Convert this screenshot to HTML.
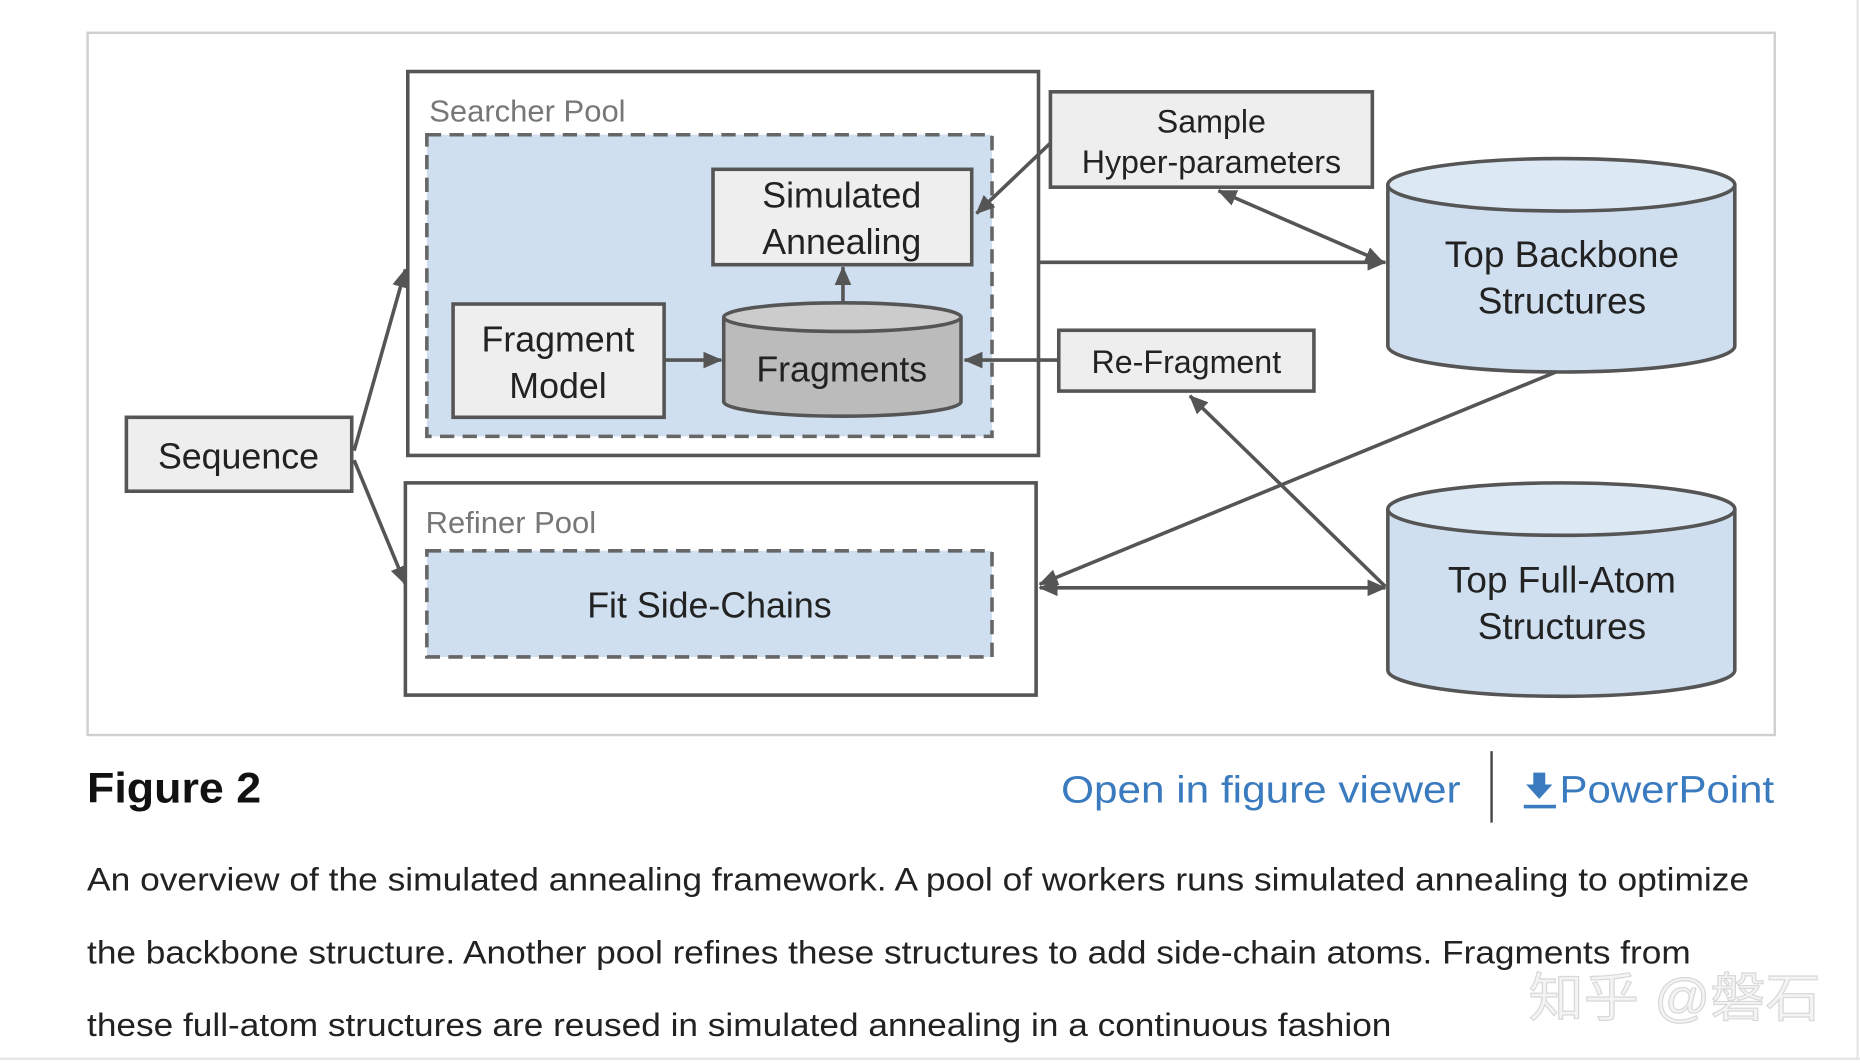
<!DOCTYPE html>
<html><head><meta charset="utf-8"><style>
html,body{margin:0;padding:0;background:#fff;}
svg{display:block;}
text{font-family:"Liberation Sans","Noto Sans CJK SC",sans-serif;}
</style></head><body>
<svg width="1860" height="1064" viewBox="0 0 1560 892.4" preserveAspectRatio="none" xmlns="http://www.w3.org/2000/svg">
<defs>
<marker id="ah" markerWidth="8" markerHeight="8" refX="7" refY="4" orient="auto" markerUnits="userSpaceOnUse">
<path d="M0,0 L8,4 L0,8 Z" fill="#555"/></marker>
<marker id="ah2" markerWidth="16" markerHeight="14" refX="15" refY="7" orient="auto-start-reverse" markerUnits="userSpaceOnUse">
<path d="M0,0 L16,7 L0,14 Z" fill="#555"/></marker>
</defs>
<rect x="0" y="0" width="1560" height="892" fill="#fff"/>
<line x1="0" y1="888" x2="1560" y2="888" stroke="#e6e6e6" stroke-width="2"/>
<line x1="1558" y1="0" x2="1558" y2="888" stroke="#e6e6e6" stroke-width="2"/>
<rect x="73.5" y="27.5" width="1415" height="589" fill="#fff" stroke="#cfcfcf" stroke-width="2"/>

<!-- Searcher pool -->
<rect x="342" y="60" width="529" height="322" fill="#fff" stroke="#555" stroke-width="3"/>
<text x="360" y="102" font-size="26" fill="#777">Searcher Pool</text>
<rect x="358" y="113" width="474" height="253" fill="#cfdff0" stroke="#666" stroke-width="3" stroke-dasharray="12,7"/>
<rect x="598" y="142" width="217" height="80" fill="#eee" stroke="#555" stroke-width="3"/>
<text x="706" y="174" font-size="30" fill="#222" text-anchor="middle">Simulated</text>
<text x="706" y="213" font-size="30" fill="#222" text-anchor="middle">Annealing</text>
<rect x="380" y="255" width="177" height="95" fill="#eee" stroke="#555" stroke-width="3"/>
<text x="468" y="295" font-size="30" fill="#222" text-anchor="middle">Fragment</text>
<text x="468" y="334" font-size="30" fill="#222" text-anchor="middle">Model</text>
<path d="M607,266 L607,337 A99,12 0 0 0 806,337 L806,266" fill="#bbb" stroke="#555" stroke-width="3"/>
<ellipse cx="706.5" cy="266" rx="99.5" ry="12" fill="#ccc" stroke="#555" stroke-width="3"/>
<text x="706" y="320" font-size="30" fill="#222" text-anchor="middle">Fragments</text>
<line x1="707" y1="253" x2="707" y2="224" stroke="#555" stroke-width="3" marker-end="url(#ah2)"/>
<line x1="558" y1="302" x2="605" y2="302" stroke="#555" stroke-width="3" marker-end="url(#ah2)"/>

<!-- Sequence -->
<rect x="106" y="350" width="189" height="62" fill="#eee" stroke="#555" stroke-width="3"/>
<text x="200" y="393" font-size="30" fill="#222" text-anchor="middle">Sequence</text>
<line x1="297" y1="378" x2="340" y2="226" stroke="#555" stroke-width="3" marker-end="url(#ah2)"/>
<line x1="297" y1="386" x2="340" y2="490" stroke="#555" stroke-width="3" marker-end="url(#ah2)"/>

<!-- Refiner pool -->
<rect x="340" y="405" width="529" height="178" fill="#fff" stroke="#555" stroke-width="3"/>
<text x="357" y="447" font-size="26" fill="#777">Refiner Pool</text>
<rect x="358" y="462" width="474" height="89" fill="#cfdff0" stroke="#666" stroke-width="3" stroke-dasharray="12,7"/>
<text x="595" y="518" font-size="30" fill="#222" text-anchor="middle">Fit Side-Chains</text>

<!-- Sample -->
<rect x="881" y="77" width="270" height="80" fill="#eee" stroke="#555" stroke-width="3"/>
<text x="1016" y="111" font-size="27" fill="#222" text-anchor="middle">Sample</text>
<text x="1016" y="145" font-size="27" fill="#222" text-anchor="middle">Hyper-parameters</text>
<!-- Re-Fragment -->
<rect x="888" y="277" width="214" height="51" fill="#eee" stroke="#555" stroke-width="3"/>
<text x="995" y="313" font-size="27" fill="#222" text-anchor="middle">Re-Fragment</text>

<!-- Top Backbone -->
<path d="M1164,155 L1164,290 A145.5,22 0 0 0 1455,290 L1455,155" fill="#cfdff0" stroke="#555" stroke-width="3"/>
<ellipse cx="1309.5" cy="155" rx="145.5" ry="22" fill="#dde8f5" stroke="#555" stroke-width="3"/>
<text x="1310" y="224" font-size="31" fill="#222" text-anchor="middle">Top Backbone</text>
<text x="1310" y="263" font-size="31" fill="#222" text-anchor="middle">Structures</text>
<!-- Top Full-Atom -->
<path d="M1164,427 L1164,562 A145.5,22 0 0 0 1455,562 L1455,427" fill="#cfdff0" stroke="#555" stroke-width="3"/>
<ellipse cx="1309.5" cy="427" rx="145.5" ry="22" fill="#dde8f5" stroke="#555" stroke-width="3"/>
<text x="1310" y="497" font-size="31" fill="#222" text-anchor="middle">Top Full-Atom</text>
<text x="1310" y="536" font-size="31" fill="#222" text-anchor="middle">Structures</text>

<!-- connectors -->
<line x1="881" y1="120" x2="819" y2="179" stroke="#555" stroke-width="3" marker-end="url(#ah2)"/>
<line x1="1022" y1="160" x2="1160" y2="220" stroke="#555" stroke-width="3" marker-start="url(#ah2)" marker-end="url(#ah2)"/>
<line x1="871" y1="220" x2="1162" y2="220" stroke="#555" stroke-width="3" marker-end="url(#ah2)"/>
<line x1="888" y1="302" x2="809" y2="302" stroke="#555" stroke-width="3" marker-end="url(#ah2)"/>
<line x1="1162" y1="492" x2="998" y2="332" stroke="#555" stroke-width="3" marker-end="url(#ah2)"/>
<line x1="1305" y1="312" x2="872" y2="490" stroke="#555" stroke-width="3" marker-end="url(#ah2)"/>
<line x1="872" y1="493" x2="1162" y2="493" stroke="#555" stroke-width="3" marker-start="url(#ah2)" marker-end="url(#ah2)"/>

<!-- caption -->
<text x="73" y="673" font-size="36" font-weight="bold" fill="#111" textLength="146" lengthAdjust="spacingAndGlyphs">Figure 2</text>
<text x="890" y="673" font-size="32" fill="#3a7bbf" textLength="335" lengthAdjust="spacingAndGlyphs">Open in figure viewer</text>
<line x1="1251" y1="630" x2="1251" y2="690" stroke="#444" stroke-width="2"/>
<path d="M1286,648 L1296,648 L1296,658 L1302,658 L1291,670 L1280,658 L1286,658 Z" fill="#3a7bbf"/>
<rect x="1278" y="675" width="27" height="3" fill="#3a7bbf"/>
<text x="1308" y="673" font-size="32" fill="#3a7bbf" textLength="180" lengthAdjust="spacingAndGlyphs">PowerPoint</text>

<text x="73" y="747" font-size="27" fill="#222" textLength="1394" lengthAdjust="spacingAndGlyphs">An overview of the simulated annealing framework. A pool of workers runs simulated annealing to optimize</text>
<text x="73" y="808" font-size="27" fill="#222" textLength="1345" lengthAdjust="spacingAndGlyphs">the backbone structure. Another pool refines these structures to add side-chain atoms. Fragments from</text>
<text x="73" y="869" font-size="27" fill="#222" textLength="1094" lengthAdjust="spacingAndGlyphs">these full-atom structures are reused in simulated annealing in a continuous fashion</text>

<text x="1282" y="852" font-size="44" fill="#f4f4f4" stroke="#d8d8d8" stroke-width="1" textLength="245" lengthAdjust="spacingAndGlyphs">知乎 @磐石</text>
</svg>
</body></html>
